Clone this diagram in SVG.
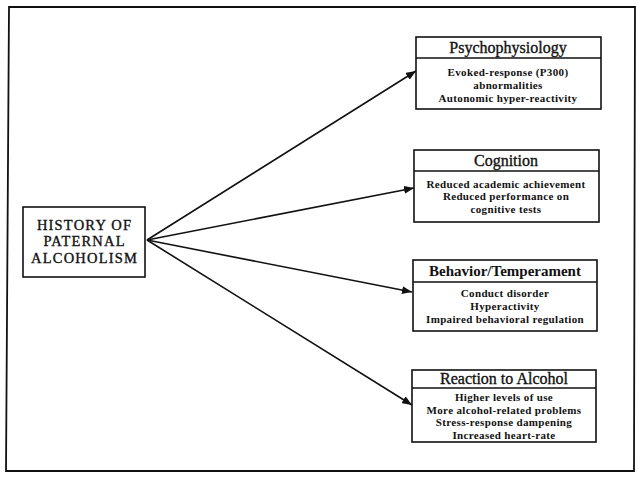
<svg xmlns="http://www.w3.org/2000/svg" width="638" height="478" viewBox="0 0 638 478">
<defs>
<style>
.box{fill:#fff;stroke:#111;stroke-width:1.6}
.div{stroke:#111;stroke-width:1.4}
.t{font-family:"Liberation Serif","Times New Roman",serif;fill:#111;text-anchor:middle}
.title{font-size:16px;stroke:#111;stroke-width:0.35}
.body{font-size:11px;font-weight:bold;letter-spacing:0.35px}
.main{font-size:14.5px;letter-spacing:1.2px;stroke:#111;stroke-width:0.35}
.conn{stroke:#111;stroke-width:1.6;fill:none}
</style>
<marker id="ah" viewBox="0 0 10 8" refX="10" refY="4" markerWidth="10" markerHeight="8" markerUnits="userSpaceOnUse" orient="auto">
<path d="M0,0 L10,4 L0,8 Z" fill="#111"/>
</marker>
</defs>
<rect width="638" height="478" fill="#fff"/>
<path d="M9,7 L635,7 L634,471 L6,471 Z" fill="none" stroke="#111" stroke-width="1.8"/>
<g id="connectors">
<line class="conn" x1="147" y1="240" x2="416" y2="71" marker-end="url(#ah)"/>
<line class="conn" x1="147" y1="240" x2="414" y2="188" marker-end="url(#ah)"/>
<line class="conn" x1="147" y1="240" x2="412" y2="292" marker-end="url(#ah)"/>
<line class="conn" x1="147" y1="240" x2="412" y2="405" marker-end="url(#ah)"/>
</g>
<g id="history">
<rect class="box" x="23" y="207" width="122" height="70"/>
<text class="t main" x="84.6" y="229.5">HISTORY OF</text>
<text class="t main" x="84.6" y="246">PATERNAL</text>
<text class="t main" x="84.6" y="262.5">ALCOHOLISM</text>
</g>
<g id="psychophysiology">
<rect class="box" x="416" y="37" width="185" height="72"/>
<line class="div" x1="416" y1="58" x2="601" y2="58"/>
<text class="t title" x="508" y="53">Psychophysiology</text>
<text class="t body" x="508" y="76">Evoked-response (P300)</text>
<text class="t body" x="508" y="89">abnormalities</text>
<text class="t body" x="508" y="102">Autonomic hyper-reactivity</text>
</g>
<g id="cognition">
<rect class="box" x="414" y="150" width="185" height="72"/>
<line class="div" x1="414" y1="171" x2="599" y2="171"/>
<text class="t title" x="506" y="166">Cognition</text>
<text class="t body" x="506" y="187.5">Reduced academic achievement</text>
<text class="t body" x="506" y="200">Reduced performance on</text>
<text class="t body" x="506" y="212.5">cognitive tests</text>
</g>
<g id="behavior">
<rect class="box" x="413" y="260" width="184" height="71"/>
<line class="div" x1="413" y1="282" x2="597" y2="282"/>
<text class="t title" x="505" y="276" style="font-weight:bold;font-size:15px;stroke-width:0">Behavior/Temperament</text>
<text class="t body" x="505" y="297">Conduct disorder</text>
<text class="t body" x="505" y="310">Hyperactivity</text>
<text class="t body" x="505" y="322.5">Impaired behavioral regulation</text>
</g>
<g id="reaction">
<rect class="box" x="412" y="370" width="184" height="72"/>
<line class="div" x1="412" y1="388" x2="596" y2="388"/>
<text class="t title" x="504" y="384">Reaction to Alcohol</text>
<text class="t body" x="504" y="401">Higher levels of use</text>
<text class="t body" x="504" y="413.5">More alcohol-related problems</text>
<text class="t body" x="504" y="426">Stress-response dampening</text>
<text class="t body" x="504" y="438.5">Increased heart-rate</text>
</g>
</svg>
